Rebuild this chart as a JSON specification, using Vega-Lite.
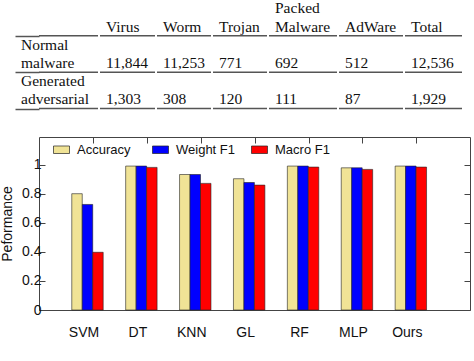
{
  "$schema": "https://vega.github.io/schema/vega-lite/v6.json",
  "padding": {"left": 0, "top": 0, "right": 0, "bottom": 0},
  "background": "white",
  "config": {
    "view": {"stroke": null},
    "text": {"font": "Liberation Serif", "fontSize": 15.5, "color": "#111"}
  },
  "datasets": {
    "cells": [
      {"col": "Packed", "line": 0, "text": "Packed"},
      {"col": "Virus", "line": 1, "text": "Virus"},
      {"col": "Worm", "line": 1, "text": "Worm"},
      {"col": "Trojan", "line": 1, "text": "Trojan"},
      {"col": "Packed", "line": 1, "text": "Malware"},
      {"col": "AdWare", "line": 1, "text": "AdWare"},
      {"col": "Total", "line": 1, "text": "Total"},
      {"col": "Label", "line": 2, "text": "Normal"},
      {"col": "Label", "line": 3, "text": "malware"},
      {"col": "Virus", "line": 3, "text": "11,844"},
      {"col": "Worm", "line": 3, "text": "11,253"},
      {"col": "Trojan", "line": 3, "text": "771"},
      {"col": "Packed", "line": 3, "text": "692"},
      {"col": "AdWare", "line": 3, "text": "512"},
      {"col": "Total", "line": 3, "text": "12,536"},
      {"col": "Label", "line": 4, "text": "Generated"},
      {"col": "Label", "line": 5, "text": "adversarial"},
      {"col": "Virus", "line": 5, "text": "1,303"},
      {"col": "Worm", "line": 5, "text": "308"},
      {"col": "Trojan", "line": 5, "text": "120"},
      {"col": "Packed", "line": 5, "text": "111"},
      {"col": "AdWare", "line": 5, "text": "87"},
      {"col": "Total", "line": 5, "text": "1,929"}
    ],
    "rules": [{"pos": 1.5}, {"pos": 3.5}, {"pos": 5.5}],
    "perf": [
      {"model": "SVM", "metric": "Accuracy", "value": 0.80},
      {"model": "SVM", "metric": "Weight F1", "value": 0.726},
      {"model": "SVM", "metric": "Macro F1", "value": 0.397},
      {"model": "DT", "metric": "Accuracy", "value": 0.99},
      {"model": "DT", "metric": "Weight F1", "value": 0.99},
      {"model": "DT", "metric": "Macro F1", "value": 0.981},
      {"model": "KNN", "metric": "Accuracy", "value": 0.932},
      {"model": "KNN", "metric": "Weight F1", "value": 0.932},
      {"model": "KNN", "metric": "Macro F1", "value": 0.871},
      {"model": "GL", "metric": "Accuracy", "value": 0.903},
      {"model": "GL", "metric": "Weight F1", "value": 0.877},
      {"model": "GL", "metric": "Macro F1", "value": 0.859},
      {"model": "RF", "metric": "Accuracy", "value": 0.99},
      {"model": "RF", "metric": "Weight F1", "value": 0.99},
      {"model": "RF", "metric": "Macro F1", "value": 0.983},
      {"model": "MLP", "metric": "Accuracy", "value": 0.978},
      {"model": "MLP", "metric": "Weight F1", "value": 0.978},
      {"model": "MLP", "metric": "Macro F1", "value": 0.967},
      {"model": "Ours", "metric": "Accuracy", "value": 0.99},
      {"model": "Ours", "metric": "Weight F1", "value": 0.99},
      {"model": "Ours", "metric": "Macro F1", "value": 0.983}
    ]
  },
  "vconcat": [
    {
      "hconcat": [
        {"width": 59, "height": 110, "layer": [
          {"data": {"name": "cells"}, "transform": [{"filter": "datum.col == 'Label'"}],
           "mark": {"type": "text", "align": "left", "baseline": "middle", "dx": -18},
           "encoding": {"x": {"datum": 0, "type": "quantitative", "scale": {"domain": [0, 1]}, "axis": null},
                        "y": {"field": "line", "type": "quantitative", "scale": {"domain": [-0.467, 5.577], "reverse": true, "nice": false, "zero": false},
                              "axis": {"orient": "left", "values": [1.5, 3.5, 5.5], "labels": false, "domain": false, "grid": false, "title": null, "tickSize": 24, "tickWidth": 1.5, "tickColor": "#555"}},
                        "text": {"field": "text"}}},
          {"data": {"name": "rules"}, "mark": {"type": "rule", "color": "#555", "strokeWidth": 1.5},
           "encoding": {"y": {"field": "pos", "type": "quantitative", "scale": {"domain": [-0.467, 5.577], "reverse": true, "nice": false, "zero": false}}}}
        ]},
        {"width": 55, "height": 110, "layer": [
          {"data": {"name": "cells"}, "transform": [{"filter": "datum.col == 'Virus'"}],
           "mark": {"type": "text", "align": "left", "baseline": "middle", "dx": 6},
           "encoding": {"x": {"datum": 0, "type": "quantitative", "scale": {"domain": [0, 1]}, "axis": null},
                        "y": {"field": "line", "type": "quantitative", "scale": {"domain": [-0.467, 5.577], "reverse": true, "nice": false, "zero": false}, "axis": null},
                        "text": {"field": "text"}}},
          {"data": {"name": "rules"}, "mark": {"type": "rule", "color": "#555", "strokeWidth": 1.5},
           "encoding": {"y": {"field": "pos", "type": "quantitative", "scale": {"domain": [-0.467, 5.577], "reverse": true, "nice": false, "zero": false}, "axis": null}}}
        ]},
        {"width": 54, "height": 110, "layer": [
          {"data": {"name": "cells"}, "transform": [{"filter": "datum.col == 'Worm'"}],
           "mark": {"type": "text", "align": "left", "baseline": "middle", "dx": 6},
           "encoding": {"x": {"datum": 0, "type": "quantitative", "scale": {"domain": [0, 1]}, "axis": null},
                        "y": {"field": "line", "type": "quantitative", "scale": {"domain": [-0.467, 5.577], "reverse": true, "nice": false, "zero": false}, "axis": null},
                        "text": {"field": "text"}}},
          {"data": {"name": "rules"}, "mark": {"type": "rule", "color": "#555", "strokeWidth": 1.5},
           "encoding": {"y": {"field": "pos", "type": "quantitative", "scale": {"domain": [-0.467, 5.577], "reverse": true, "nice": false, "zero": false}, "axis": null}}}
        ]},
        {"width": 54, "height": 110, "layer": [
          {"data": {"name": "cells"}, "transform": [{"filter": "datum.col == 'Trojan'"}],
           "mark": {"type": "text", "align": "left", "baseline": "middle", "dx": 6},
           "encoding": {"x": {"datum": 0, "type": "quantitative", "scale": {"domain": [0, 1]}, "axis": null},
                        "y": {"field": "line", "type": "quantitative", "scale": {"domain": [-0.467, 5.577], "reverse": true, "nice": false, "zero": false}, "axis": null},
                        "text": {"field": "text"}}},
          {"data": {"name": "rules"}, "mark": {"type": "rule", "color": "#555", "strokeWidth": 1.5},
           "encoding": {"y": {"field": "pos", "type": "quantitative", "scale": {"domain": [-0.467, 5.577], "reverse": true, "nice": false, "zero": false}, "axis": null}}}
        ]},
        {"width": 68, "height": 110, "layer": [
          {"data": {"name": "cells"}, "transform": [{"filter": "datum.col == 'Packed'"}],
           "mark": {"type": "text", "align": "left", "baseline": "middle", "dx": 6},
           "encoding": {"x": {"datum": 0, "type": "quantitative", "scale": {"domain": [0, 1]}, "axis": null},
                        "y": {"field": "line", "type": "quantitative", "scale": {"domain": [-0.467, 5.577], "reverse": true, "nice": false, "zero": false}, "axis": null},
                        "text": {"field": "text"}}},
          {"data": {"name": "rules"}, "mark": {"type": "rule", "color": "#555", "strokeWidth": 1.5},
           "encoding": {"y": {"field": "pos", "type": "quantitative", "scale": {"domain": [-0.467, 5.577], "reverse": true, "nice": false, "zero": false}, "axis": null}}}
        ]},
        {"width": 64, "height": 110, "layer": [
          {"data": {"name": "cells"}, "transform": [{"filter": "datum.col == 'AdWare'"}],
           "mark": {"type": "text", "align": "left", "baseline": "middle", "dx": 6},
           "encoding": {"x": {"datum": 0, "type": "quantitative", "scale": {"domain": [0, 1]}, "axis": null},
                        "y": {"field": "line", "type": "quantitative", "scale": {"domain": [-0.467, 5.577], "reverse": true, "nice": false, "zero": false}, "axis": null},
                        "text": {"field": "text"}}},
          {"data": {"name": "rules"}, "mark": {"type": "rule", "color": "#555", "strokeWidth": 1.5},
           "encoding": {"y": {"field": "pos", "type": "quantitative", "scale": {"domain": [-0.467, 5.577], "reverse": true, "nice": false, "zero": false}, "axis": null}}}
        ]},
        {"width": 57, "height": 110, "layer": [
          {"data": {"name": "cells"}, "transform": [{"filter": "datum.col == 'Total'"}],
           "mark": {"type": "text", "align": "left", "baseline": "middle", "dx": 6},
           "encoding": {"x": {"datum": 0, "type": "quantitative", "scale": {"domain": [0, 1]}, "axis": null},
                        "y": {"field": "line", "type": "quantitative", "scale": {"domain": [-0.467, 5.577], "reverse": true, "nice": false, "zero": false}, "axis": null},
                        "text": {"field": "text"}}},
          {"data": {"name": "rules"}, "mark": {"type": "rule", "color": "#555", "strokeWidth": 1.5},
           "encoding": {"y": {"field": "pos", "type": "quantitative", "scale": {"domain": [-0.467, 5.577], "reverse": true, "nice": false, "zero": false}, "axis": null}}}
        ]}
      ],
      "spacing": 0
    },
    {
      "width": 431,
      "height": 173,
      "view": {"stroke": "#444", "strokeWidth": 1},
      "data": {"name": "perf"},
      "layer": [
        {
          "mark": {"type": "bar", "stroke": "#222", "strokeWidth": 0.6},
          "encoding": {
            "x": {"field": "model", "type": "nominal", "sort": ["SVM", "DT", "KNN", "GL", "RF", "MLP", "Ours"],
                  "scale": {"paddingInner": 0.417, "paddingOuter": 0.707, "align": 0.43},
                  "axis": {"orient": "bottom", "title": null, "ticks": false, "tickSize": 0, "domain": false, "labelAngle": 0, "labelPadding": 15, "labelOffset": -3.5, "labelFont": "Liberation Sans", "labelFontSize": 14, "labelColor": "#111"}},
            "xOffset": {"field": "metric", "type": "nominal", "sort": ["Accuracy", "Weight F1", "Macro F1"], "scale": {"paddingInner": 0, "paddingOuter": 0}},
            "y": {"field": "value", "type": "quantitative", "stack": null, "scale": {"domain": [0, 1.19], "nice": false},
                  "axis": {"orient": "left", "values": [0, 0.2, 0.4, 0.6, 0.8, 1], "format": ".1~f", "title": "Peformance", "titleFont": "Liberation Sans", "titleFontSize": 14, "titleFontWeight": "normal", "titleColor": "#111", "titlePadding": 7, "tickSize": -6, "tickColor": "#444", "domain": false, "grid": false, "labelFont": "Liberation Sans", "labelFontSize": 14, "labelColor": "#111", "labelPadding": 4}},
            "color": {"field": "metric", "type": "nominal", "sort": ["Accuracy", "Weight F1", "Macro F1"],
                      "scale": {"range": ["#F0E396", "#0000FF", "#FF0000"]},
                      "legend": {"orient": "none", "legendX": 14, "legendY": 4, "direction": "horizontal", "title": null, "symbolType": "M-1,-0.47H1V0.47H-1Z", "symbolSize": 256, "symbolStrokeColor": "#222", "symbolStrokeWidth": 0.7, "labelFont": "Liberation Sans", "labelFontSize": 13, "labelColor": "#111", "labelOffset": 7, "gridAlign": "all", "columnPadding": 14, "padding": 0}}
          }
        },
        {
          "mark": {"type": "point", "opacity": 0, "size": 1},
          "encoding": {
            "x": {"field": "model", "type": "nominal", "sort": ["SVM", "DT", "KNN", "GL", "RF", "MLP", "Ours"],
                  "axis": {"orient": "top", "title": null, "labels": false, "tickSize": -6, "tickColor": "#444", "domain": false, "bandPosition": 0.5, "tickOffset": 5.5}},
            "y": {"field": "value", "type": "quantitative", "stack": null,
                  "axis": {"orient": "right", "title": null, "labels": false, "values": [0, 0.2, 0.4, 0.6, 0.8, 1], "tickSize": -6, "tickColor": "#444", "domain": false, "grid": false}}
          }
        }
      ],
      "resolve": {"axis": {"x": "independent", "y": "independent"}}
    }
  ],
  "spacing": 26,
  "resolve": {"legend": {"color": "independent"}}
}
